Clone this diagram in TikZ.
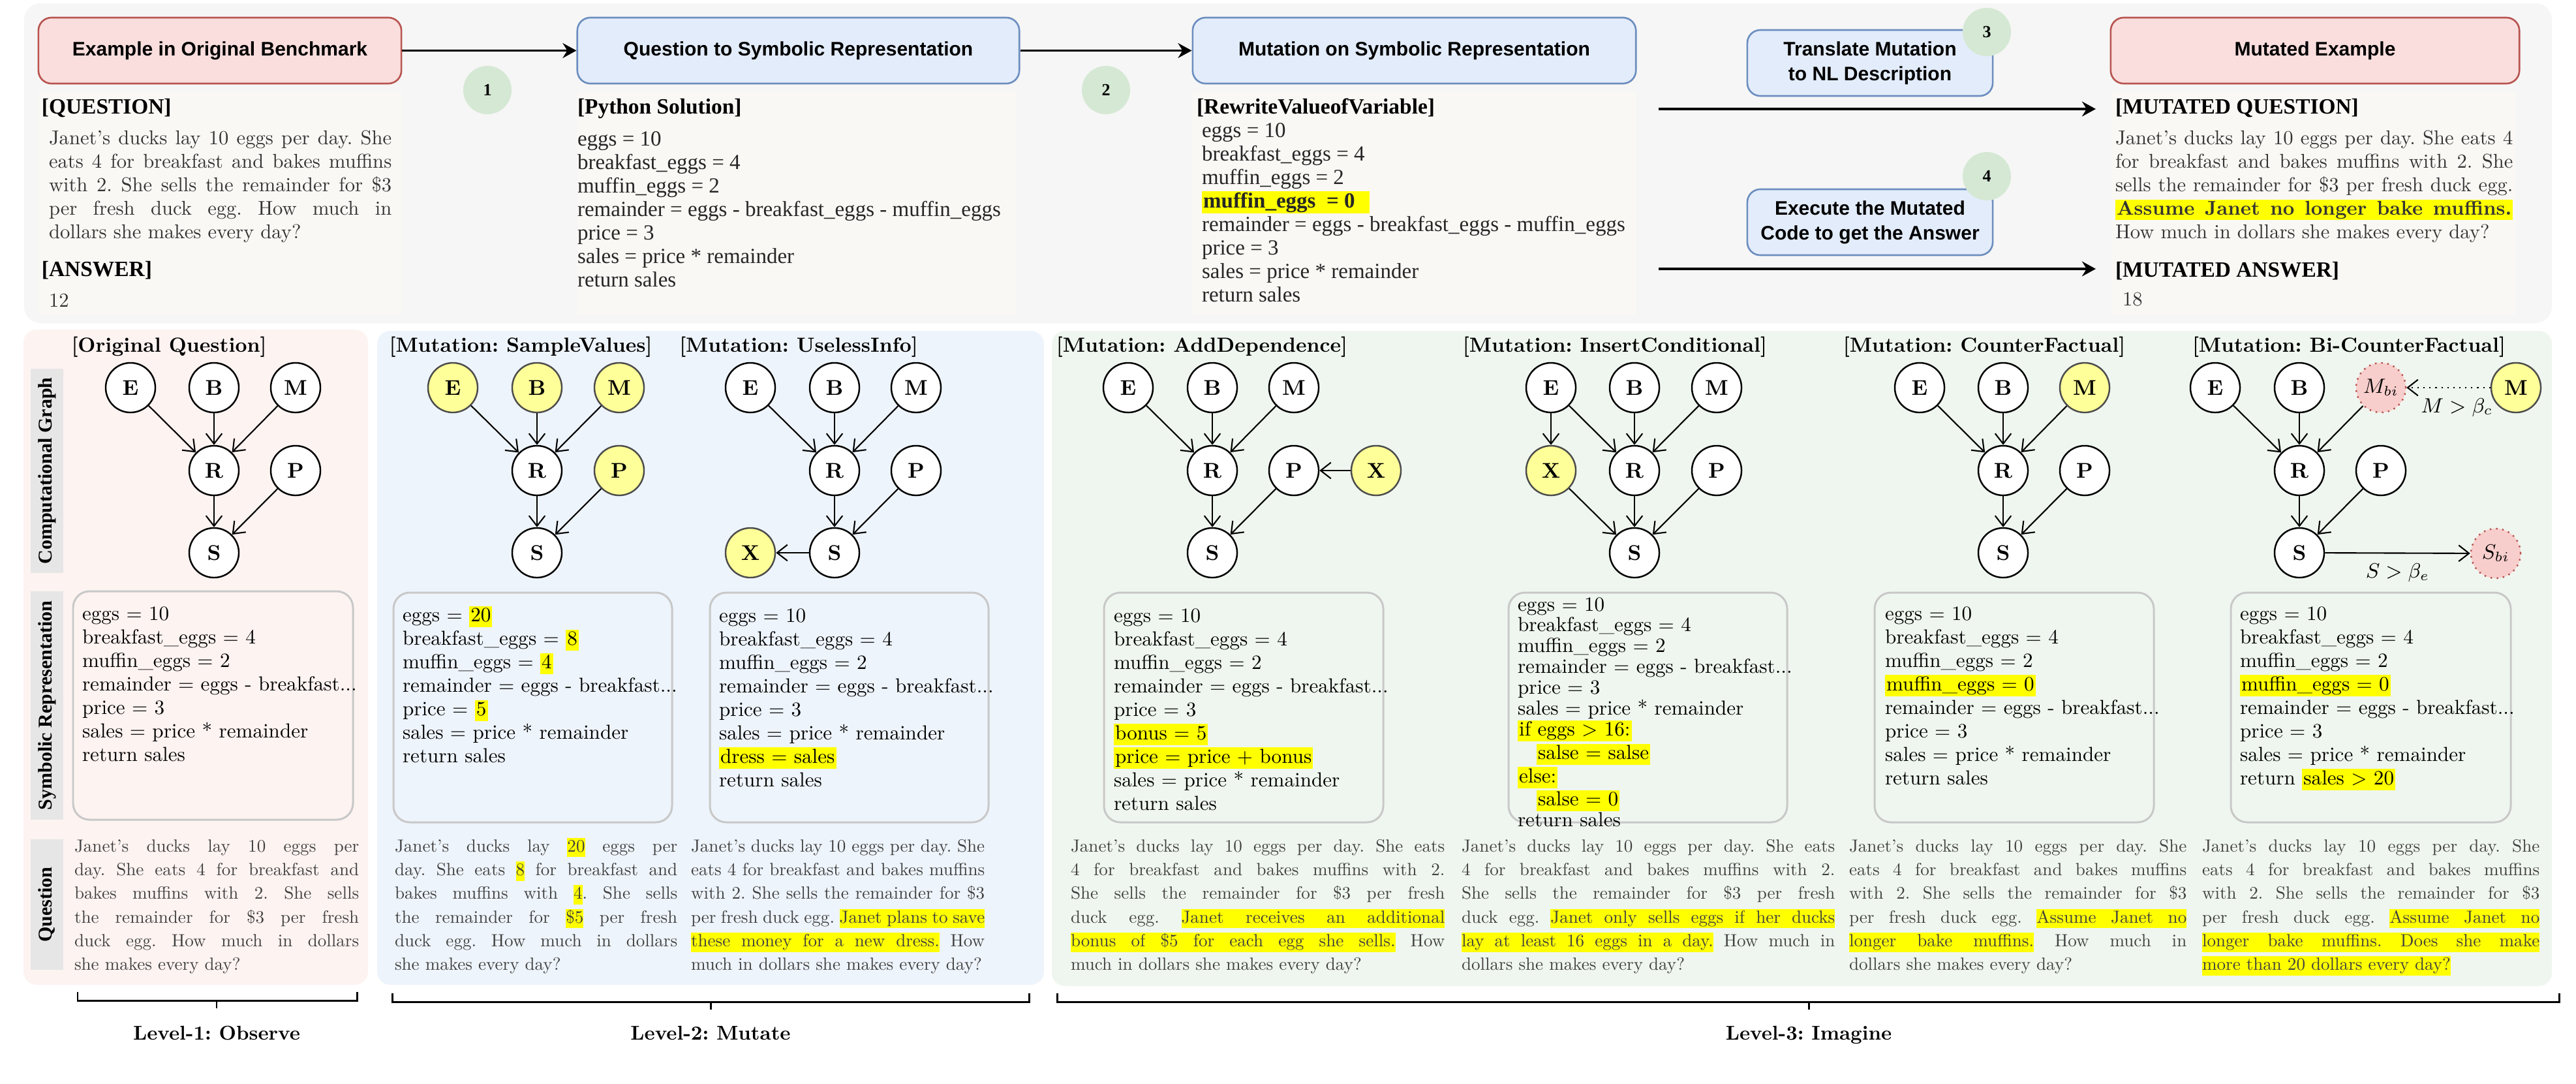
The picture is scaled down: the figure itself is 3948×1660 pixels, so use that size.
\documentclass[tikz,border=0pt]{standalone}
\usepackage{fontspec}
\setmainfont{lmroman10-regular.otf}[BoldFont=lmroman10-bold.otf, ItalicFont=lmroman10-italic.otf, BoldItalicFont=lmroman10-bolditalic.otf]
\newfontfamily\tnr{Liberation Serif}
\newfontfamily\arialf{Liberation Sans}
\usetikzlibrary{arrows.meta}
\definecolor{toppanel}{HTML}{F6F6F6}
\definecolor{topcontent}{HTML}{F9F8F5}
\definecolor{redfill}{HTML}{F9DEDD}
\definecolor{redline}{HTML}{B85450}
\definecolor{bluefill}{HTML}{E3ECFA}
\definecolor{blueline}{HTML}{6C8EBF}
\definecolor{greenc}{HTML}{D5E8D4}
\definecolor{lonefill}{HTML}{FDF3F1}
\definecolor{ltwofill}{HTML}{EEF4FB}
\definecolor{lthreefill}{HTML}{EFF6EF}
\definecolor{sidegray}{HTML}{E6E6E6}
\definecolor{codeline}{HTML}{C8C8C8}
\definecolor{hly}{HTML}{FFFF00}
\definecolor{ynode}{HTML}{FFFF99}
\definecolor{pnode}{HTML}{F8CECC}
\definecolor{qgray}{HTML}{404040}
\definecolor{qdark}{HTML}{333333}
\newcommand\fQtop{\fontsize{8.7pt}{10.24pt}\selectfont}
\newcommand\fcodeT{\tnr\fontsize{9.39pt}{10.24pt}\selectfont}
\newcommand\fhdrT{\tnr\bfseries\fontsize{9.5pt}{10.24pt}\selectfont}
\newcommand\fBoxHead{\arialf\bfseries\fontsize{8.54pt}{10.8pt}\selectfont}
\newcommand\fNum{\tnr\bfseries\fontsize{7.4pt}{8pt}\selectfont}
\newcommand\fcode{\fontsize{8.85pt}{10.24pt}\selectfont}
\newcommand\fcodetight{\fontsize{8.85pt}{9.08pt}\selectfont}
\newcommand\fq{\fontsize{7.7pt}{10.33pt}\selectfont}
\newcommand\ftitle{\bfseries\fontsize{8.9pt}{10pt}\selectfont}
\newcommand\fnode{\bfseries\fontsize{9.3pt}{10pt}\selectfont}
\newcommand\fside{\tnr\bfseries\fontsize{8.54pt}{10pt}\selectfont}
\newcommand\flevel{\bfseries\fontsize{8.7pt}{10pt}\selectfont}
\newcommand\fmath{\fontsize{9.1pt}{10pt}\selectfont}
\newcommand\jl[1]{\makebox[\linewidth][s]{#1}\par}
\newcommand\lastl[1]{\leavevmode#1\par}
% box highlight (code)
\newcommand\hl[1]{{\fboxsep=0.6pt\colorbox{hly}{\vphantom{Jgy}#1}}}
% stretchable highlight (prose)
\newcommand\hlw[1]{\leavevmode\setbox0\hbox{#1}\setbox2\hbox{Jgy}\rlap{\color{hly}\vrule height\dimexpr\ht2+0.8pt\relax depth\dimexpr\dp2+0.8pt\relax width\wd0}\box0\relax}
\newcommand\hs{\leavevmode\setbox2\hbox{Jgy}{\color{hly}\leaders\vrule height\dimexpr\ht2+0.8pt\relax depth\dimexpr\dp2+0.8pt\relax\hskip\fontdimen2\font plus\fontdimen3\font minus\fontdimen4\font}}
\def\hlt#1{\hlA#1 \hlend}
\def\hlA#1 #2\hlend{\hlw{#1}\if\relax\detokenize{#2}\relax\else\hs\hlA#2\hlend\fi}
\newcommand\hlfull[1]{{\fboxsep=0.6pt\colorbox{hly}{\makebox[\dimexpr\linewidth-1.2pt\relax][s]{\vphantom{Jgy}#1}}}\par}
\newcommand\blk[2]{\begin{minipage}[t]{#1}\raggedright #2\end{minipage}}
\newcommand\jblk[2]{\begin{minipage}[t]{#1}#2\end{minipage}}
\AtBeginDocument{\lineskiplimit=-20pt\lineskip=0pt\frenchspacing}
\begin{document}
\begin{tikzpicture}[x=0.01cm,y=-0.01cm,
  ptext/.style={anchor=base west, inner sep=0, outer sep=0},
  hbox/.style={draw, line width=0.75pt, rounded corners=0.2cm, font=\fBoxHead, align=center, inner sep=0, minimum height=1.01cm},
  numc/.style={circle, fill=greenc, minimum size=0.74cm, inner sep=0, font=\fNum},
  bigarrow/.style={-{Stealth[length=6pt,width=6.5pt,inset=2pt]}, line width=1.1pt},
  gn/.style={circle, draw, line width=0.7pt, minimum size=0.76cm, inner sep=0, font=\fnode, fill=white},
  gy/.style={gn, fill=ynode, draw=black!70},
  gp/.style={gn, fill=pnode, draw=redline, dotted, font=\fmath},
  ge/.style={-{Straight Barb[length=4.5pt,width=7pt]}, line width=0.6pt},
  codebox/.style={draw=codeline, line width=0.85pt, rounded corners=0.25cm},
  sidebox/.style={rotate=90, fill=sidegray, minimum height=0.5cm, inner sep=0, font=\fside},
  titl/.style={anchor=base, font=\ftitle, inner sep=0},
  bracket/.style={line width=0.85pt},
  lvl/.style={anchor=base, font=\flevel, inner sep=0}]
\useasboundingbox (0,0) rectangle (3948,1660);
\fill[white] (0,0) rectangle (3948,1660);

% ================= TOP PANEL =================
\fill[toppanel, rounded corners=0.25cm] (37,5) rectangle (3911,495);
\fill[topcontent] (59,140) rectangle (615,482);
\fill[topcontent] (885,140) rectangle (1558,482);
\fill[topcontent] (1828,140) rectangle (2507,482);
\fill[topcontent] (3235,140) rectangle (3855,482);

\node[hbox, fill=redfill, draw=redline, minimum width=5.56cm] (hEx) at (337,77.5) {Example in Original Benchmark};
\node[hbox, fill=bluefill, draw=blueline, minimum width=6.77cm] (hQS) at (1223.5,77.5) {Question to Symbolic Representation};
\node[hbox, fill=bluefill, draw=blueline, minimum width=6.79cm] (hMut) at (2167.5,77.5) {Mutation on Symbolic Representation};
\node[hbox, fill=redfill, draw=redline, minimum width=6.26cm] (hMEx) at (3548,77.5) {Mutated Example};
\node[hbox, fill=bluefill, draw=blueline, minimum width=3.76cm] (hTr) at (2866,96.5) {Translate Mutation\\to NL Description};
\node[hbox, fill=bluefill, draw=blueline, minimum width=3.76cm] (hExe) at (2866,340.5) {Execute the Mutated\\Code to get the Answer};

\draw[bigarrow] (hEx.east) -- (hQS.west);
\draw[bigarrow] (hQS.east) -- (hMut.west);

\node[numc] (n1) at (747,138) {1};
\node[numc] (n2) at (1695,138) {2};
\node[numc] (n3) at (3045,49) {3};
\node[numc] (n4) at (3045,270) {4};

% column 1
\node[ptext, font=\fhdrT] (qhead) at (64,174) {[QUESTION]};
\node[ptext, font=\fQtop, text=qdark] (qtext) at (75,221)
 {\jblk{5.25cm}{\jl{Janet’s ducks lay 10 eggs per day. She}\jl{eats 4 for breakfast and bakes muffins}\jl{with 2. She sells the remainder for \$3}\jl{per fresh duck egg. How much in}\lastl{dollars she makes every day?}}};
\node[ptext, font=\fhdrT] (ahead) at (64,423) {[ANSWER]};
\node[ptext, font=\fQtop, text=qdark] (atext) at (75,470) {12};

% column 2
\node[ptext, font=\fhdrT] (phead) at (885,174) {[Python Solution]};
\node[ptext, font=\fcodeT, text=black!85] (pycode) at (885,223)
 {\blk{8cm}{eggs = 10\\breakfast\_eggs = 4\\muffin\_eggs = 2\\remainder = eggs - breakfast\_eggs - muffin\_eggs\\price = 3\\sales = price * remainder\\return sales}};

% column 3
\node[ptext, font=\fhdrT] (rhead) at (1834,174) {[RewriteValueofVariable]};
\node[ptext, font=\fcodeT, text=black!85] (rwcode) at (1842,210)
 {\blk{8cm}{eggs = 10\\breakfast\_eggs = 4\\muffin\_eggs = 2\\\hl{\bfseries muffin\_eggs\ \ = 0\hspace*{0.2cm}}\\remainder = eggs - breakfast\_eggs - muffin\_eggs\\price = 3\\sales = price * remainder\\return sales}};

% column 5
\node[ptext, font=\fhdrT] (mqhead) at (3242,174) {[MUTATED QUESTION]};
\node[ptext, font=\fQtop, text=qdark] (mqtext) at (3242,221)
 {\jblk{6.09cm}{\jl{Janet’s ducks lay 10 eggs per day. She eats 4}\jl{for breakfast and bakes muffins with 2. She}\jl{sells the remainder for \$3 per fresh duck egg.}\hlfull{\bfseries Assume Janet no longer bake muffins.}\lastl{How much in dollars she makes every day?}}};
\node[ptext, font=\fhdrT] (mahead) at (3242,424) {[MUTATED ANSWER]};
\node[ptext, font=\fQtop, text=qdark] (matext) at (3253,468) {18};

\coordinate (a3s) at (2542,167);
\coordinate (a4s) at (2542,412);
\draw[bigarrow, shorten >=0.3cm] (a3s) -- (a3s -| mqhead.west);
\draw[bigarrow, shorten >=0.3cm] (a4s) -- (a4s -| mahead.west);

% ================= BOTTOM PANELS =================
\fill[lonefill, rounded corners=0.2cm] (36,505) rectangle (564,1509);
\fill[ltwofill, rounded corners=0.2cm] (578,507) rectangle (1600,1509);
\fill[lthreefill, rounded corners=0.2cm] (1612,507) rectangle (3911,1511);

\node[sidebox, minimum width=3.13cm] (sCG) at (72,721.5) {Computational Graph};
\node[sidebox, minimum width=3.5cm] (sSR) at (72,1081) {Symbolic Representation};
\node[sidebox, minimum width=2.0cm] (sQ) at (72,1386) {Question};

\node[titl] (t1) at (259,539) {[Original Question]};
\node[titl] (t2) at (798,539) {[Mutation: SampleValues]};
\node[titl] (t3) at (1224,539) {[Mutation: UselessInfo]};
\node[titl] (t4) at (1842,539) {[Mutation: AddDependence]};
\node[titl] (t5) at (2475,539) {[Mutation: InsertConditional]};
\node[titl] (t6) at (3041,539) {[Mutation: CounterFactual]};
\node[titl] (t7) at (3600,539) {[Mutation: Bi-CounterFactual]};

% ---- Graph 1
\node[gn] (g1E) at (200,594) {E};
\node[gn] (g1B) at (328,594) {B};
\node[gn] (g1M) at (453,594) {M};
\node[gn] (g1R) at (328,721) {R};
\node[gn] (g1P) at (453,721) {P};
\node[gn] (g1S) at (328,847) {S};
\draw[ge] (g1E) -- (g1R); \draw[ge] (g1B) -- (g1R); \draw[ge] (g1M) -- (g1R);
\draw[ge] (g1R) -- (g1S); \draw[ge] (g1P) -- (g1S);

% ---- Graph 2
\node[gy] (g2E) at (694,594) {E};
\node[gy] (g2B) at (823,594) {B};
\node[gy] (g2M) at (949,594) {M};
\node[gn] (g2R) at (823,721) {R};
\node[gy] (g2P) at (949,721) {P};
\node[gn] (g2S) at (823,847) {S};
\draw[ge] (g2E) -- (g2R); \draw[ge] (g2B) -- (g2R); \draw[ge] (g2M) -- (g2R);
\draw[ge] (g2R) -- (g2S); \draw[ge] (g2P) -- (g2S);

% ---- Graph 3
\node[gn] (g3E) at (1150,594) {E};
\node[gn] (g3B) at (1279,594) {B};
\node[gn] (g3M) at (1404,594) {M};
\node[gn] (g3R) at (1279,721) {R};
\node[gn] (g3P) at (1404,721) {P};
\node[gn] (g3S) at (1279,847) {S};
\node[gy] (g3X) at (1150,847) {X};
\draw[ge] (g3E) -- (g3R); \draw[ge] (g3B) -- (g3R); \draw[ge] (g3M) -- (g3R);
\draw[ge] (g3R) -- (g3S); \draw[ge] (g3P) -- (g3S); \draw[ge] (g3S) -- (g3X);

% ---- Graph 4
\node[gn] (g4E) at (1729,594) {E};
\node[gn] (g4B) at (1858,594) {B};
\node[gn] (g4M) at (1983,594) {M};
\node[gn] (g4R) at (1858,721) {R};
\node[gn] (g4P) at (1983,721) {P};
\node[gy] (g4X) at (2109,721) {X};
\node[gn] (g4S) at (1858,847) {S};
\draw[ge] (g4E) -- (g4R); \draw[ge] (g4B) -- (g4R); \draw[ge] (g4M) -- (g4R);
\draw[ge] (g4R) -- (g4S); \draw[ge] (g4P) -- (g4S); \draw[ge] (g4X) -- (g4P);

% ---- Graph 5
\node[gn] (g5E) at (2377,594) {E};
\node[gn] (g5B) at (2505,594) {B};
\node[gn] (g5M) at (2631,594) {M};
\node[gy] (g5X) at (2377,721) {X};
\node[gn] (g5R) at (2505,721) {R};
\node[gn] (g5P) at (2631,721) {P};
\node[gn] (g5S) at (2505,847) {S};
\draw[ge] (g5E) -- (g5X); \draw[ge] (g5E) -- (g5R); \draw[ge] (g5B) -- (g5R); \draw[ge] (g5M) -- (g5R);
\draw[ge] (g5X) -- (g5S); \draw[ge] (g5R) -- (g5S); \draw[ge] (g5P) -- (g5S);

% ---- Graph 6
\node[gn] (g6E) at (2942,594) {E};
\node[gn] (g6B) at (3070,594) {B};
\node[gy] (g6M) at (3195,594) {M};
\node[gn] (g6R) at (3070,721) {R};
\node[gn] (g6P) at (3195,721) {P};
\node[gn] (g6S) at (3070,847) {S};
\draw[ge] (g6E) -- (g6R); \draw[ge] (g6B) -- (g6R); \draw[ge] (g6M) -- (g6R);
\draw[ge] (g6R) -- (g6S); \draw[ge] (g6P) -- (g6S);

% ---- Graph 7
\node[gn] (g7E) at (3395,594) {E};
\node[gn] (g7B) at (3524,594) {B};
\node[gp] (g7Mb) at (3649,594) {$M_{bi}$};
\node[gy] (g7M) at (3856,594) {M};
\node[gn] (g7R) at (3524,721) {R};
\node[gn] (g7P) at (3649,721) {P};
\node[gn] (g7S) at (3524,847) {S};
\node[gp] (g7Sb) at (3825,848) {$S_{bi}$};
\draw[ge] (g7E) -- (g7R); \draw[ge] (g7B) -- (g7R); \draw[ge] (g7Mb) -- (g7R);
\draw[ge] (g7R) -- (g7S); \draw[ge] (g7P) -- (g7S);
\draw[ge, dotted] (g7M) -- node[below=1pt, pos=0.4, font=\fmath] {$M>\beta_c$} (g7Mb);
\draw[ge] (g7S) -- node[below=1pt, pos=0.5, font=\fmath] {$S>\beta_e$} (g7Sb);

% ---- Code boxes
\draw[codebox] (112,906) rectangle (541,1256);
\draw[codebox] (603,908) rectangle (1030,1260);
\draw[codebox] (1088,908) rectangle (1515,1260);
\draw[codebox] (1692,908) rectangle (2120,1260);
\draw[codebox] (2312,908) rectangle (2739,1260);
\draw[codebox] (2873,908) rectangle (3301,1260);
\draw[codebox] (3419,908) rectangle (3848,1260);

\node[ptext, font=\fcode] (c1) at (126,950)
 {\blk{6cm}{eggs = 10\\breakfast\_eggs = 4\\muffin\_eggs = 2\\remainder = eggs - breakfast...\\price = 3\\sales = price * remainder\\return sales}};
\node[ptext, font=\fcode] (c2) at (617,952)
 {\blk{6cm}{eggs = \hl{20}\\breakfast\_eggs = \hl{8}\\muffin\_eggs = \hl{4}\\remainder = eggs - breakfast...\\price = \hl{5}\\sales = price * remainder\\return sales}};
\node[ptext, font=\fcode] (c3) at (1102,953)
 {\blk{6cm}{eggs = 10\\breakfast\_eggs = 4\\muffin\_eggs = 2\\remainder = eggs - breakfast...\\price = 3\\sales = price * remainder\\\hl{dress = sales}\\return sales}};
\node[ptext, font=\fcode] (c4) at (1707,953)
 {\blk{6cm}{eggs = 10\\breakfast\_eggs = 4\\muffin\_eggs = 2\\remainder = eggs - breakfast...\\price = 3\\\hl{bonus = 5}\\\hl{price = price + bonus}\\sales = price * remainder\\return sales}};
\node[ptext, font=\fcodetight] (c5) at (2326,936)
 {\blk{6cm}{eggs = 10\\breakfast\_eggs = 4\\muffin\_eggs = 2\\remainder = eggs - breakfast...\\price = 3\\sales = price * remainder\\\hl{if eggs > 16:}\\\hspace*{0.29cm}\hl{salse = salse}\\\hl{else:}\\\hspace*{0.29cm}\hl{salse = 0}\\return sales}};
\node[ptext, font=\fcode] (c6) at (2889,950)
 {\blk{6cm}{eggs = 10\\breakfast\_eggs = 4\\muffin\_eggs = 2\\\hl{muffin\_eggs = 0}\\remainder = eggs - breakfast...\\price = 3\\sales = price * remainder\\return sales}};
\node[ptext, font=\fcode] (c7) at (3433,950)
 {\blk{6cm}{eggs = 10\\breakfast\_eggs = 4\\muffin\_eggs = 2\\\hl{muffin\_eggs = 0}\\remainder = eggs - breakfast...\\price = 3\\sales = price * remainder\\return \hl{sales > 20}}};

% ---- Question texts
\node[ptext, font=\fq, text=qgray] (q1) at (114,1305)
 {\jblk{4.36cm}{\jl{Janet’s ducks lay 10 eggs per}\jl{day. She eats 4 for breakfast and}\jl{bakes muffins with 2. She sells}\jl{the remainder for \$3 per fresh}\jl{duck egg. How much in dollars}\lastl{she makes every day?}}};
\node[ptext, font=\fq, text=qgray] (q2) at (605,1305)
 {\jblk{4.33cm}{\jl{Janet’s ducks lay \hlt{20} eggs per}\jl{day. She eats \hlt{8} for breakfast and}\jl{bakes muffins with \hlt{4}. She sells}\jl{the remainder for \hlt{\$5} per fresh}\jl{duck egg. How much in dollars}\lastl{she makes every day?}}};
\node[ptext, font=\fq, text=qgray] (q3) at (1059,1305)
 {\jblk{4.5cm}{\jl{Janet’s ducks lay 10 eggs per day. She}\jl{eats 4 for breakfast and bakes muffins}\jl{with 2. She sells the remainder for \$3}\jl{per fresh duck egg. \hlt{Janet plans to save}}\jl{\hlt{these money for a new dress.} How}\lastl{much in dollars she makes every day?}}};
\node[ptext, font=\fq, text=qgray] (q4) at (1641,1305)
 {\jblk{5.73cm}{\jl{Janet’s ducks lay 10 eggs per day. She eats}\jl{4 for breakfast and bakes muffins with 2.}\jl{She sells the remainder for \$3 per fresh}\jl{duck egg. \hlt{Janet receives an additional}}\jl{\hlt{bonus of \$5 for each egg she sells.} How}\lastl{much in dollars she makes every day?}}};
\node[ptext, font=\fq, text=qgray] (q5) at (2240,1305)
 {\jblk{5.72cm}{\jl{Janet’s ducks lay 10 eggs per day. She eats}\jl{4 for breakfast and bakes muffins with 2.}\jl{She sells the remainder for \$3 per fresh}\jl{duck egg. \hlt{Janet only sells eggs if her ducks}}\jl{\hlt{lay at least 16 eggs in a day.} How much in}\lastl{dollars she makes every day?}}};
\node[ptext, font=\fq, text=qgray] (q6) at (2834,1305)
 {\jblk{5.17cm}{\jl{Janet’s ducks lay 10 eggs per day. She}\jl{eats 4 for breakfast and bakes muffins}\jl{with 2. She sells the remainder for \$3}\jl{per fresh duck egg. \hlt{Assume Janet no}}\jl{\hlt{longer bake muffins.} How much in}\lastl{dollars she makes every day?}}};
\node[ptext, font=\fq, text=qgray] (q7) at (3375,1305)
 {\jblk{5.17cm}{\jl{Janet’s ducks lay 10 eggs per day. She}\jl{eats 4 for breakfast and bakes muffins}\jl{with 2. She sells the remainder for \$3}\jl{per fresh duck egg. \hlt{Assume Janet no}}\jl{\hlt{longer bake muffins. Does she make}}\lastl{\hlt{more than 20 dollars every day?}}}};

% ---- Level brackets
\draw[bracket] (119,1520) -- (119,1533) -- (547,1533) -- (547,1520);
\draw[bracket] (332,1533) -- (332,1545);
\node[lvl] (lv1) at (332,1593) {Level-1: Observe};
\draw[bracket] (601,1522) -- (601,1535) -- (1577,1535) -- (1577,1522);
\draw[bracket] (1089,1535) -- (1089,1547);
\node[lvl] (lv2) at (1089,1593) {Level-2: Mutate};
\draw[bracket] (1620,1522) -- (1620,1535) -- (3922,1535) -- (3922,1522);
\draw[bracket] (2772,1535) -- (2772,1547);
\node[lvl] (lv3) at (2772,1593) {Level-3: Imagine};
\end{tikzpicture}
\end{document}
